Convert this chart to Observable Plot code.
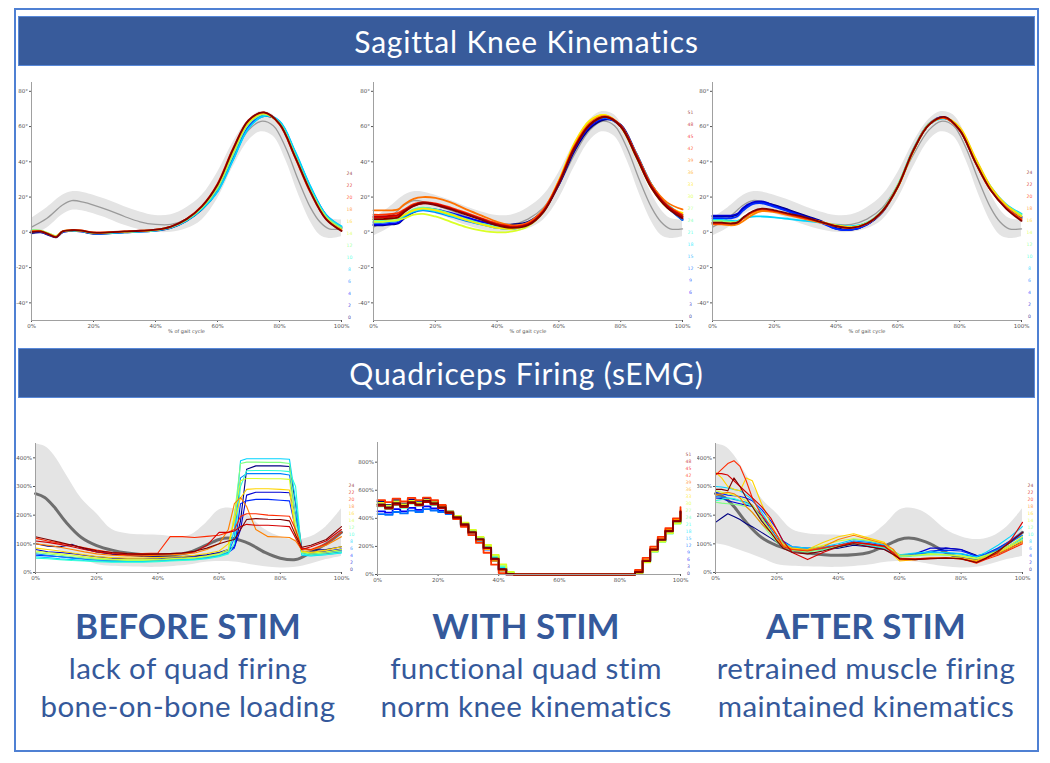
<!DOCTYPE html>
<html>
<head>
<meta charset="utf-8">
<script src="https://cdn.jsdelivr.net/npm/d3@7"></script>
<script src="https://cdn.jsdelivr.net/npm/@observablehq/plot@0.6"></script>
<style>
  body { margin: 0; background: #fff; }
  #page { position: relative; width: 1050px; height: 763px; overflow: hidden; font-family: Lato, "Open Sans", sans-serif; background: #fff; }
  .outer { position: absolute; left: 14px; top: 8px; width: 1025px; height: 744px; border: 2px solid #4f80d3; box-sizing: border-box; }
  .banner { position: absolute; left: 18px; width: 1017px; height: 50px; background: #385b9b; border: 1.5px solid #5888d8; box-sizing: border-box;
            color: #fff; font-size: 30px; letter-spacing: 0.8px; display: flex; align-items: center; justify-content: center; }
  .cap { position: absolute; width: 400px; text-align: center; color: #35599b; white-space: nowrap; }
  .cap.head { font-weight: 700; font-size: 35px; line-height: 42px; }
  .cap.line { font-size: 29.5px; line-height: 34px; letter-spacing: 0.4px; }
</style>
</head>
<body>
<div id="page">
  <div class="outer"></div>
  <div class="banner" style="top:16px">Sagittal Knee Kinematics</div>
  <div class="banner" style="top:348px">Quadriceps Firing (sEMG)</div>
</div>
<script>
// ---------- x ticks (percent of gait cycle) ----------
const gaitTicks = [0, 20, 40, 60, 80, 100];

// ---------- normative knee flexion band (degrees) ----------
const normKinPct  = [0, 5, 10, 13, 17, 20, 25, 30, 35, 40, 45, 50, 55, 60, 65, 70, 74, 78, 82, 86, 90, 93, 96, 100];
const normKinMean = [3, 8, 15.5, 18, 17, 15.5, 12.5, 9, 6, 4.5, 4.5, 7.5, 14, 27, 44, 58, 63, 60.5, 48, 30, 14, 6, 2, 2];
const normKinLo   = [-2, 2.5, 10, 12.5, 12, 10.5, 7.5, 4, 1.5, 0, 0, 2, 7, 19, 37, 52, 57, 54.5, 41, 22, 6, -1.5, -3.5, -2.5];
const normKinHi   = [8, 14, 21, 23, 22.5, 21, 18, 14.5, 11.5, 9.5, 10, 14, 21, 34, 51, 64, 68.5, 66.5, 55, 38, 22, 13, 8, 7];
const kinTicks = [-40, -20, 0, 20, 40, 60, 80];

// ---------- normative quadriceps sEMG band (% of reference) ----------
const normEmgPct  = [0, 3, 6, 10, 15, 20, 25, 30, 40, 50, 55, 60, 63, 67, 70, 75, 80, 85, 90, 95, 100];
const normEmgMean = [275, 262, 230, 175, 122, 94, 78, 68, 60, 70, 92, 115, 120, 112, 100, 70, 50, 45, 70, 100, 140];
const normEmgLo   = [100, 95, 85, 70, 50, 28, 22, 20, 18, 26, 35, 38, 38, 34, 28, 20, 16, 18, 30, 45, 56];
const normEmgHi   = [448, 440, 410, 342, 258, 205, 150, 135, 130, 128, 165, 218, 225, 215, 195, 150, 125, 115, 125, 160, 222];

// ---------- session trials: knee flexion ----------
const kinPct = [0, 3, 6, 8, 10, 13, 16, 20, 25, 30, 35, 40, 45, 50, 55, 60, 65, 70, 75, 80, 85, 90, 95, 100];

const beforeKinKeys = [0, 4, 8, 12, 16, 20, 24];
const beforeKin = [
  [-0.5, 0, -1.8, -2.8, 0, 0.8, 0.5, -0.8, -0.6, 0, 0.4, 1, 2.6, 6.5, 13, 23.5, 41.5, 59.5, 66, 62.5, 45, 25, 9.5, 2.5],
  [0, 0.3, -1.6, -2.6, 0.2, 0.9, 0.6, -0.6, -0.4, 0.1, 0.5, 1.1, 2.8, 6.8, 13.5, 24, 42, 60, 66.5, 62.8, 45.5, 25.5, 10, 3],
  [1, 0.8, -1.2, -2.2, 0.4, 1, 0.7, -0.5, -0.5, 0, 0.4, 1, 2.7, 6.6, 13.2, 23, 41, 59, 66, 63, 46, 26, 10, 3.5],
  [1.2, 1, -1, -2, 0.5, 1.1, 0.8, -0.3, -0.2, 0.3, 0.7, 1.3, 3, 7, 14, 25, 44, 61.5, 67, 62, 44, 24, 9, 2.5],
  [0.8, 0.8, -1.2, -2.3, 0.6, 1.2, 1, -0.2, 0, 0.4, 0.8, 1.4, 3.2, 7.4, 14.6, 26.5, 46, 62.5, 67.5, 61.5, 43, 23, 8, 1.5],
  [0.5, 0.6, -1.4, -2.5, 0.6, 1.3, 1.1, 0, 0.1, 0.5, 0.9, 1.5, 3.3, 7.6, 15, 27.5, 47.5, 63.5, 68, 61.2, 42.5, 22.5, 7.5, 1],
  [0.2, 0.5, -1.5, -2.7, 0.5, 1.2, 1, -0.2, 0, 0.5, 0.9, 1.5, 3.3, 7.5, 14.8, 27, 47, 63.5, 68, 61.5, 43, 23, 7.5, 0.8]
];

const withKinKeys = [0, 6, 12, 18, 24, 30, 33, 39, 42, 45, 48, 51];
const withKin = [
  [4, 4, 4.5, 5, 8, 11.5, 13, 12.5, 10.5, 8, 6, 4.5, 4.5, 6, 12.5, 27, 46, 59, 64, 61, 45, 27, 15, 7],
  [4.5, 4.5, 5, 5.5, 8.5, 12, 13.5, 13, 11, 8.5, 6, 4, 3.5, 5.5, 12.5, 27.5, 47, 60, 64.5, 60.5, 44.5, 26.5, 15, 7.5],
  [5.5, 5.5, 6, 6.5, 9, 11.5, 12.5, 11.5, 9, 6.5, 4.5, 2.5, 2, 4.5, 12, 28, 48, 61, 65, 60, 44, 26, 14.5, 7],
  [6, 6, 6.5, 7, 9.5, 12, 13, 12, 9.5, 7, 4.5, 2.5, 2, 4.5, 12, 28, 48.5, 61.5, 65.5, 60.5, 44.5, 27, 16, 10],
  [7, 7, 7.5, 8, 10, 13, 14, 13, 10.5, 7.5, 5, 3, 2.5, 5, 12.5, 28.5, 49, 62, 66, 60, 44, 26, 15.5, 9.5],
  [6, 6, 6.5, 7, 8, 10, 10.5, 9, 6, 3, 1, 0, 0.5, 3.5, 11.5, 29, 50, 63, 66.5, 60, 43, 25, 14, 9],
  [7.5, 7.5, 8, 8.5, 10, 12.5, 13.5, 12.5, 10, 7, 4.5, 2.5, 2, 4.5, 12.5, 29.5, 50.5, 63.5, 66.5, 60, 43, 25.5, 15, 11],
  [12.5, 12.5, 12.5, 13, 16, 19, 20, 19.5, 17, 13, 9.5, 6, 4, 5.5, 13, 29, 49, 62, 66, 60.5, 44.5, 27, 17, 13],
  [10, 10, 10.5, 11, 13, 16, 17, 16.5, 14, 11, 8, 5, 3.5, 5, 12.5, 28.5, 48.5, 61.5, 65.5, 60.5, 44, 26, 15.5, 10],
  [8.5, 8.5, 9, 9.5, 12, 15, 16.5, 16, 13.5, 10.5, 7.5, 4.5, 3, 4.5, 12, 28, 48, 61, 65.5, 60, 43.5, 25.5, 14.5, 8.5],
  [9, 9, 9.5, 10, 12.5, 15.5, 17, 16, 13.5, 10.5, 7.5, 4.5, 3, 4.5, 12, 28, 48, 61, 65.5, 60.5, 44, 26, 15, 9],
  [7.5, 7.5, 8, 8.5, 11.5, 15, 16.5, 15.5, 13, 10, 7, 4, 2.5, 4, 11.5, 27.5, 47.5, 61, 65.5, 60, 43, 25, 14, 8]
];

const afterKinKeys = [0, 2, 4, 8, 12, 16, 18, 20, 24];
const afterKin = [
  [9, 9, 9, 10, 13.5, 16.5, 17, 15.5, 12.5, 9.5, 6.5, 2.5, 1.5, 4.5, 11.5, 26, 46.5, 61, 65, 58.5, 41, 25, 15, 8.5],
  [9.5, 9.5, 9.5, 10.5, 14, 17, 17.5, 15, 12, 9, 6, 2, 1.5, 4.5, 12, 26.5, 47, 61.5, 65.5, 58, 40.5, 24.5, 14.5, 8],
  [8, 8, 8, 9, 12.5, 16, 16.5, 14.5, 11.5, 8.5, 5.5, 2, 1.5, 4.5, 12, 26, 46.5, 61, 65, 58.5, 41, 25, 15, 9],
  [7, 7, 6.5, 6.5, 8, 9, 9, 8.5, 7.5, 6.5, 5.5, 4, 3.5, 5.5, 12.5, 26.5, 47, 61, 64.5, 59, 42, 26, 16, 10.5],
  [6.5, 6.5, 6, 6, 8.5, 11, 12.5, 12, 10, 8, 6, 4, 3, 5.5, 12.5, 27, 47, 61.5, 65, 58.5, 41, 25, 15.5, 10],
  [5.5, 5.5, 5, 5.5, 8, 11, 12.5, 12, 10, 8, 6, 4, 3, 5, 12, 25.5, 46, 61, 65, 59.5, 42.5, 26, 15.5, 9],
  [4.5, 4.5, 4, 4.5, 6.5, 10, 12, 11.5, 9.5, 7.5, 5.5, 3.5, 2.5, 5, 12, 26, 46.5, 61, 65, 58, 40, 24, 14, 7.5],
  [5, 5, 5, 5.5, 8, 11.5, 13, 12, 10, 8, 6, 3.5, 2.5, 5, 12, 26, 46.5, 61, 65, 58, 40, 24, 14, 7],
  [5.5, 5.5, 5, 5.5, 8.5, 12, 13.5, 12.5, 10.5, 8.5, 6, 3.5, 2.5, 5, 12, 26, 46.5, 61, 65.5, 58, 40, 24, 13.5, 6.5]
];

// ---------- session trials: quadriceps sEMG ----------
const beforeEmgPct = [0, 4, 8, 12, 16, 20, 25, 30, 35, 40, 44, 48, 52, 56, 60, 63, 65, 67, 69, 72, 76, 80, 83, 85, 87, 90, 95, 100];
const beforeEmgKeys = [0, 2, 4, 6, 8, 10, 12, 14, 16, 18, 20, 22, 24];
const beforeEmg = [
  [100, 92, 90, 98, 82, 72, 64, 60, 56, 55, 55, 56, 58, 62, 70, 80, 90, 180, 360, 372, 372, 372, 370, 240, 85, 78, 80, 90],
  [80, 72, 70, 66, 60, 55, 50, 48, 48, 48, 50, 52, 55, 60, 68, 78, 88, 150, 270, 280, 280, 280, 278, 200, 75, 70, 74, 82],
  [60, 58, 55, 52, 48, 45, 42, 42, 42, 44, 45, 46, 48, 52, 60, 70, 85, 240, 250, 255, 255, 252, 250, 150, 70, 65, 70, 78],
  [65, 60, 55, 50, 46, 44, 42, 40, 40, 42, 44, 46, 48, 52, 60, 70, 120, 330, 345, 345, 345, 345, 340, 200, 70, 62, 66, 72],
  [55, 52, 48, 45, 42, 40, 38, 38, 38, 40, 42, 44, 46, 50, 58, 68, 150, 390, 397, 397, 397, 397, 395, 250, 60, 58, 62, 68],
  [50, 48, 45, 42, 40, 38, 36, 36, 36, 38, 40, 42, 44, 48, 55, 65, 100, 300, 355, 356, 356, 355, 352, 300, 65, 60, 63, 70],
  [70, 65, 60, 55, 50, 46, 44, 42, 42, 44, 46, 48, 50, 55, 62, 75, 200, 380, 385, 385, 384, 384, 380, 180, 70, 64, 68, 75],
  [75, 70, 65, 60, 55, 50, 46, 44, 44, 46, 48, 50, 52, 58, 66, 80, 200, 320, 328, 328, 327, 327, 325, 150, 72, 68, 72, 80],
  [85, 80, 75, 68, 62, 56, 52, 50, 50, 52, 54, 56, 60, 66, 75, 100, 180, 260, 290, 292, 292, 290, 288, 130, 75, 70, 78, 90],
  [100, 95, 88, 80, 72, 65, 60, 58, 58, 60, 62, 64, 68, 80, 100, 150, 240, 262, 230, 150, 125, 124, 122, 110, 80, 78, 95, 125],
  [120, 110, 102, 95, 86, 78, 70, 66, 66, 68, 125, 125, 122, 126, 130, 140, 150, 195, 205, 205, 200, 198, 196, 150, 85, 80, 100, 140],
  [110, 105, 98, 90, 80, 72, 66, 62, 62, 64, 66, 68, 72, 95, 140, 140, 145, 160, 168, 165, 165, 162, 160, 120, 80, 90, 110, 150],
  [125, 115, 105, 95, 85, 76, 70, 66, 64, 65, 66, 68, 74, 85, 100, 110, 115, 150, 185, 188, 186, 185, 180, 130, 88, 95, 115, 160]
];

// stimulation-driven firing is recorded in discrete pulses, so it is drawn as steps
const withEmgPct = [0, 2.5, 5, 7.5, 10, 12.5, 15, 17.5, 20, 22.5, 25, 27.5, 30, 32.5, 35, 37.5, 40, 42.5, 45,
                    82.5, 85, 87.5, 90, 92.5, 95, 97.5, 100];
const withEmgKeys = [0, 6, 12, 18, 24, 30, 36, 42, 48, 51];
const withEmg = [
  [520, 495, 530, 505, 535, 515, 540, 520, 490, 450, 415, 365, 310, 260, 200, 120, 45, 8, 0, 0, 15, 95, 170, 240, 300, 370, 440],
  [450, 440, 465, 450, 475, 460, 485, 470, 455, 435, 400, 350, 295, 245, 185, 105, 35, 5, 0, 0, 22, 100, 178, 248, 310, 378, 448],
  [430, 425, 445, 435, 455, 445, 465, 455, 445, 430, 395, 345, 290, 240, 178, 95, 28, 0, 0, 0, 18, 96, 174, 244, 305, 374, 444],
  [500, 480, 510, 490, 520, 500, 525, 510, 480, 445, 410, 362, 308, 258, 200, 125, 50, 10, 0, 0, 14, 90, 166, 236, 296, 366, 432],
  [485, 465, 495, 475, 505, 490, 515, 495, 475, 440, 405, 358, 305, 255, 198, 130, 60, 15, 0, 0, 12, 88, 162, 232, 292, 362, 428],
  [510, 490, 520, 500, 525, 510, 530, 515, 485, 450, 418, 370, 318, 268, 210, 140, 72, 18, 0, 0, 10, 86, 165, 235, 295, 365, 432],
  [495, 475, 505, 490, 515, 500, 520, 505, 478, 442, 404, 352, 296, 244, 180, 98, 28, 2, 0, 0, 25, 105, 185, 255, 318, 388, 460],
  [530, 515, 540, 520, 545, 530, 548, 530, 495, 440, 395, 340, 280, 225, 155, 70, 10, 0, 0, 0, 32, 118, 198, 268, 330, 400, 480],
  [488, 470, 498, 480, 508, 492, 515, 500, 472, 438, 402, 352, 298, 248, 188, 108, 35, 3, 0, 0, 18, 98, 180, 250, 312, 382, 452],
  [500, 478, 508, 488, 515, 500, 525, 508, 480, 444, 408, 358, 302, 252, 192, 112, 38, 4, 0, 0, 16, 95, 176, 246, 308, 378, 448]
];

const afterEmgPct = [0, 2, 4, 6, 8, 10, 12, 15, 18, 20, 22, 25, 30, 35, 40, 45, 50, 55, 58, 60, 65, 70, 75, 80, 85, 88, 92, 96, 100];
const afterEmgKeys = [0, 2, 4, 6, 8, 10, 12, 14, 16, 18, 20, 22, 24];
const afterEmg = [
  [175, 190, 205, 195, 185, 170, 160, 140, 120, 105, 90, 80, 75, 80, 85, 95, 90, 80, 65, 55, 60, 70, 85, 80, 60, 55, 65, 85, 110],
  [260, 258, 250, 245, 240, 235, 230, 200, 150, 120, 95, 85, 80, 85, 90, 100, 95, 85, 70, 60, 65, 85, 85, 80, 55, 60, 75, 95, 120],
  [280, 275, 270, 268, 265, 260, 250, 220, 180, 150, 110, 90, 85, 88, 95, 105, 100, 90, 75, 55, 60, 75, 78, 75, 58, 65, 85, 110, 140],
  [265, 262, 260, 255, 250, 245, 235, 190, 150, 120, 100, 85, 80, 85, 95, 110, 105, 95, 70, 60, 65, 70, 68, 65, 52, 62, 80, 105, 130],
  [300, 298, 295, 290, 285, 270, 255, 210, 160, 130, 105, 90, 85, 90, 100, 115, 110, 98, 75, 62, 68, 72, 70, 66, 55, 70, 95, 125, 160],
  [250, 255, 260, 258, 250, 240, 230, 180, 140, 115, 95, 80, 75, 78, 88, 100, 95, 85, 68, 55, 60, 66, 62, 60, 50, 58, 75, 95, 120],
  [245, 242, 240, 238, 235, 230, 210, 170, 130, 105, 90, 78, 72, 80, 92, 105, 100, 88, 70, 55, 58, 62, 60, 58, 48, 55, 70, 90, 115],
  [285, 280, 275, 270, 262, 250, 235, 190, 145, 115, 95, 82, 78, 95, 110, 118, 112, 100, 75, 60, 60, 65, 62, 58, 50, 60, 75, 95, 125],
  [350, 330, 300, 290, 285, 330, 320, 240, 170, 130, 100, 85, 80, 105, 125, 135, 120, 105, 60, 40, 45, 50, 52, 50, 42, 55, 70, 90, 110],
  [270, 275, 280, 275, 260, 230, 210, 170, 140, 115, 95, 80, 78, 90, 115, 130, 115, 100, 80, 50, 48, 50, 50, 48, 38, 50, 65, 85, 105],
  [340, 360, 380, 390, 370, 320, 260, 200, 160, 130, 90, 80, 75, 85, 95, 105, 98, 90, 70, 45, 45, 48, 50, 48, 32, 45, 60, 80, 100],
  [345, 345, 340, 320, 300, 280, 260, 230, 190, 150, 110, 70, 45, 70, 90, 105, 100, 92, 65, 48, 48, 50, 50, 48, 35, 48, 70, 110, 175],
  [290, 290, 285, 330, 300, 260, 230, 180, 140, 110, 85, 70, 65, 75, 90, 100, 90, 80, 62, 48, 45, 48, 50, 48, 35, 50, 75, 105, 140]
];
const emgTicks = [0, 100, 200, 300, 400];
const stimEmgTicks = [0, 200, 400, 600, 800];

// session-number colour bars shown beside each panel
const legend24 = [0, 2, 4, 6, 8, 10, 12, 14, 16, 18, 20, 22, 24];
const legend51 = [0, 3, 6, 9, 12, 15, 18, 21, 24, 27, 30, 33, 36, 39, 42, 45, 48, 51];

// ---------- drawing ----------
const page = document.getElementById("page");

// classic "jet" colour ramp: dark blue -> cyan -> yellow -> dark red
function jet(t) {
  const c = v => Math.round(255 * Math.max(0, Math.min(1, v)));
  return `rgb(${c(1.5 - Math.abs(4 * t - 3))},${c(1.5 - Math.abs(4 * t - 2))},${c(1.5 - Math.abs(4 * t - 1))})`;
}

function place(node, left, top) {
  const d = document.createElement("div");
  d.style.cssText = `position:absolute;left:${left}px;top:${top}px;line-height:0;`;
  d.append(node);
  page.append(d);
}

function drawPanel(p) {
  const trials = p.keys.flatMap((k, i) => p.xs.map((x, j) => ({k, x, y: p.rows[i][j]})));
  const band = p.normX.map((x, i) => ({x, m: p.mean[i], lo: p.lo[i], hi: p.hi[i]}));
  const chart = Plot.plot({
    width: p.mL + p.fw + p.mR,
    height: p.mT + p.fh + p.mB,
    marginLeft: p.mL, marginRight: p.mR, marginTop: p.mT, marginBottom: p.mB,
    style: {background: "transparent", fontFamily: "'DejaVu Sans', sans-serif", fontSize: "5.5px", color: "#555", overflow: "hidden"},
    x: {domain: [0, 100], ticks: gaitTicks, tickFormat: d => d + "%", tickSize: 2, tickPadding: 1.5, label: null},
    y: {domain: p.yDomain, ticks: p.yTicks, tickFormat: d => d + p.unit, tickSize: 2, tickPadding: 1.5, label: null},
    color: {type: "identity"},
    marks: [
      Plot.areaY(band, {x: "x", y1: "lo", y2: "hi", fill: "#e4e4e4", curve: "catmull-rom"}),
      Plot.line(band, {x: "x", y: "m", stroke: p.meanColor, strokeWidth: p.meanWidth, curve: "catmull-rom"}),
      Plot.line(trials, {x: "x", y: "y", z: "k", stroke: d => jet(d.k / p.maxKey), strokeWidth: p.sw, curve: p.curve}),
      Plot.ruleX([0], {stroke: "#a0a0a0"}),
      Plot.ruleY([p.yDomain[0]], {stroke: "#a0a0a0"}),
      p.xLabel ? Plot.text([p.xLabel], {frameAnchor: "bottom", dy: 12, fontSize: 5, fill: "#555"}) : null
    ]
  });
  place(chart, p.left, p.top);
}

function drawLegend(l) {
  const chart = Plot.plot({
    width: 14, height: l.bottom - l.top + 8,
    margin: 0, marginTop: 4, marginBottom: 4,
    style: {background: "transparent", fontFamily: "'DejaVu Sans', sans-serif", overflow: "visible"},
    y: {type: "point", domain: [...l.keys].reverse(), axis: null, padding: 0},
    color: {type: "identity"},
    marks: [
      Plot.text(l.keys, {y: d => d, frameAnchor: "middle", text: d => String(d),
        fill: d => jet(d / l.keys[l.keys.length - 1]), fillOpacity: 0.75, fontSize: 4.6})
    ]
  });
  place(chart, l.x - 7, l.top - 4);
}

const kinCommon = {xs: kinPct, normX: normKinPct, mean: normKinMean, lo: normKinLo, hi: normKinHi,
  yDomain: [-50, 85], yTicks: kinTicks, unit: "°", meanColor: "#9a9a9a", meanWidth: 1.3,
  sw: 1.8, curve: "catmull-rom", top: 78, mT: 4, fh: 238, mB: 16, xLabel: "% of gait cycle"};
const emgCommon = {normX: normEmgPct, mean: normEmgMean, lo: normEmgLo, hi: normEmgHi,
  unit: "%", meanColor: "#6e6e6e", meanWidth: 3, sw: 1.1, curve: "linear", top: 438, mB: 12};

drawPanel({...kinCommon, left: 15,  mL: 16, fw: 310, mR: 16, keys: beforeKinKeys, rows: beforeKin, maxKey: 24});
drawPanel({...kinCommon, left: 358, mL: 15, fw: 309, mR: 16, keys: withKinKeys,   rows: withKin,   maxKey: 51});
drawPanel({...kinCommon, left: 697, mL: 15, fw: 309, mR: 12, keys: afterKinKeys,  rows: afterKin,  maxKey: 24});

drawPanel({...emgCommon, left: 15, mL: 20, fw: 306, mR: 16, mT: 5, fh: 129, yDomain: [0, 450], yTicks: emgTicks,
  xs: beforeEmgPct, keys: beforeEmgKeys, rows: beforeEmg, maxKey: 24});
drawPanel({...emgCommon, left: 358, mL: 19, fw: 303, mR: 16, mT: 4, fh: 132, yDomain: [0, 940], yTicks: stimEmgTicks,
  xs: withEmgPct, keys: withEmgKeys, rows: withEmg, maxKey: 51, curve: "step-after", sw: 1.8,
  normX: [0, 100], mean: [NaN, NaN], lo: [NaN, NaN], hi: [NaN, NaN]});
drawPanel({...emgCommon, left: 697, mL: 18, fw: 307, mR: 12, mT: 5, fh: 129, yDomain: [0, 450], yTicks: emgTicks,
  xs: afterEmgPct, keys: afterEmgKeys, rows: afterEmg, maxKey: 24});

drawLegend({x: 349,  top: 171, bottom: 318, keys: legend24});
drawLegend({x: 690,  top: 109, bottom: 319, keys: legend51});
drawLegend({x: 1029, top: 170, bottom: 317, keys: legend24});
drawLegend({x: 351,  top: 483, bottom: 571, keys: legend24});
drawLegend({x: 688,  top: 453, bottom: 573, keys: legend51});
drawLegend({x: 1030, top: 483, bottom: 570, keys: legend24});

// ---------- captions ----------
const captions = [
  {cx: 188, head: "BEFORE STIM", l1: "lack of quad firing", l2: "bone-on-bone loading"},
  {cx: 526, head: "WITH STIM", l1: "functional quad stim", l2: "norm knee kinematics"},
  {cx: 866, head: "AFTER STIM", l1: "retrained muscle firing", l2: "maintained kinematics"}
];
for (const c of captions) {
  const rows = [["head", c.head, 604], ["line", c.l1, 651], ["line", c.l2, 689]];
  for (const [cls, txt, top] of rows) {
    const d = document.createElement("div");
    d.className = "cap " + cls;
    d.style.left = (c.cx - 200) + "px";
    d.style.top = top + "px";
    d.textContent = txt;
    page.append(d);
  }
}
</script>
</body>
</html>
